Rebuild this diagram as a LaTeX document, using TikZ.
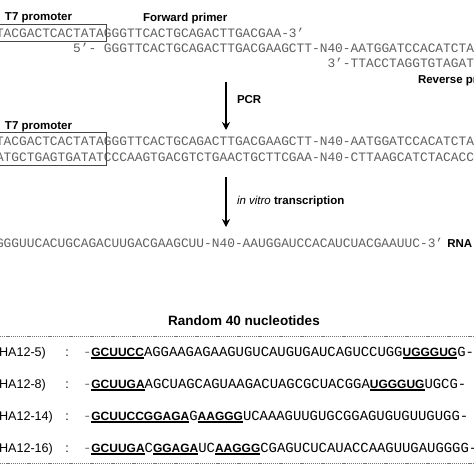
\documentclass[tikz,border=0pt]{standalone}
\usepackage{fontspec}
\setmainfont{Liberation Sans}
\newfontfamily\seqmonofont{Liberation Mono}
\usetikzlibrary{arrows.meta,fit}
\definecolor{seqgray}{RGB}{95,95,95}
\definecolor{seqlight}{RGB}{115,115,115}
\definecolor{boxgray}{RGB}{70,70,70}
\newcommand\seqtopfont{\seqmonofont\fontsize{12.85}{14}\selectfont}
\newcommand\seqbotfont{\seqmonofont\fontsize{13.9}{15}\selectfont}
\newcommand\motif[1]{\setbox0\hbox{\normalfont\fontsize{12}{14}\selectfont\bfseries\color{black}#1}\rlap{\color{black}\rule[-2.4pt]{\wd0}{1.2pt}}\box0}
\begin{document}
\begin{tikzpicture}[x=1pt,y=-1pt,
  lbl/.style={font=\fontsize{11.5}{13}\selectfont\bfseries, inner sep=0pt, outer sep=0pt, anchor=base west},
  seqtop/.style={font=\seqtopfont, text=seqgray, inner sep=0pt, outer sep=0pt, anchor=base west, text height=10.5pt, text depth=1.5pt},
  seqbot/.style={font=\seqbotfont, text=seqlight, inner sep=0pt, outer sep=0pt, anchor=base west},
  rowlbl/.style={font=\fontsize{12.6}{14}\selectfont, text=black, inner sep=0pt, outer sep=0pt, anchor=base west},
  colon/.style={font=\fontsize{12.6}{14}\selectfont, text=black, inner sep=0pt, outer sep=0pt, anchor=base},
  promobox/.style={draw=boxgray, line width=0.8pt},
  steparrow/.style={line width=1.8pt, -{Stealth[length=8pt,width=8pt]}},
  dashrule/.style={draw=gray!90!black, line width=0.9pt, dash pattern=on 1.2pt off 0.9pt}
]
\useasboundingbox (0,0) rectangle (474,474);
\clip (0,0) rectangle (474,474);

% ---- block 1: primers ----
\node[lbl] (t7a) at (5,20.1) {T7 promoter};
\node[lbl] (fwd) at (143,21.5) {Forward primer};
\node[seqtop, promobox, inner xsep=2pt, inner ysep=2.5pt] (p1) at (-6,37.7) {TACGACTCACTATA};
\node[seqtop] (l1) at ([xshift=-2pt]p1.base east) {GGGTTCACTGCAGACTTGACGAA-3’};
\node[seqtop] (l2) at (73.1,52.7) {5’- GGGTTCACTGCAGACTTGACGAAGCTT-N40-AATGGATCCACATCTA};
\node[seqtop] (l3) at (327.5,67.7) {3’-TTACCTAGGTGTAGAT};
\node[lbl] (rev) at (418,83.5) {Reverse primer};

% ---- PCR arrow ----
\coordinate (a1s) at (226,82);
\coordinate (a1e) at (226,130);
\draw[steparrow] (a1s) -- (a1e);
\node[lbl] (pcr) at (237,103.2) {PCR};

% ---- block 2: double strand ----
\node[lbl] (t7b) at (5,129.6) {T7 promoter};
\node[seqtop] (p2a) at (-4,145.2) {TACGACTCACTATA};
\node[seqtop] (l4) at (p2a.base east) {GGGTTCACTGCAGACTTGACGAAGCTT-N40-AATGGATCCACATCTA};
\node[seqtop] (p2b) at (-4,161.2) {ATGCTGAGTGATAT};
\node[seqtop] (l5) at (p2b.base east) {CCCAAGTGACGTCTGAACTGCTTCGAA-N40-CTTAAGCATCTACACC};
\node[promobox, fit=(p2a)(p2b), inner xsep=2pt, inner ysep=2.2pt] (box2) {};

% ---- transcription arrow ----
\coordinate (a2s) at (226,177);
\coordinate (a2e) at (226,227);
\draw[steparrow] (a2s) -- (a2e);
\node[lbl, font=\fontsize{11.5}{13}\selectfont] (ivt) at (237,204) {\textit{in vitro} \textbf{transcription}};

% ---- RNA ----
\node[seqtop] (rna) at (-4,247.7) {GGGUUCACUGCAGACUUGACGAAGCUU-N40-AAUGGAUCCACAUCUACGAAUUC-3’};
\node[lbl] (rnalbl) at ([xshift=4pt]rna.base east) {RNA};

% ---- block 3: aptamer sequences ----
\node[lbl, font=\fontsize{13.5}{15}\selectfont\bfseries, anchor=base] (rand) at (244,325.8) {Random 40 nucleotides};
\coordinate (d1l) at (0,336);
\coordinate (d1r) at (474,336);
\draw[dashrule] (d1l) -- (d1r);

\node[rowlbl] (h5) at (-1,356.2) {HA12-5)};
\node[colon] (c5) at (67,356.2) {:};
\node[seqbot] (s5) at (83,356.2) {-\motif{GCUUCC}AGGAAGAGAAGUGUCAUGUGAUCAGUCCUGG\motif{UGGGUG}G-};

\node[rowlbl] (h8) at (-1,388.2) {HA12-8)};
\node[colon] (c8) at (67,388.2) {:};
\node[seqbot] (s8) at (83,388.2) {-\motif{GCUUGA}AGCUAGCAGUAAGACUAGCGCUACGGA\motif{UGGGUG}UGCG-};

\node[rowlbl] (h14) at (-1,420.2) {HA12-14)};
\node[colon] (c14) at (67,420.2) {:};
\node[seqbot] (s14) at (83,420.2) {-\motif{GCUUCCGGAGA}G\motif{AAGGG}UCAAAGUUGUGCGGAGUGUGUUGUGG-};

\node[rowlbl] (h16) at (-1,452.2) {HA12-16)};
\node[colon] (c16) at (67,452.2) {:};
\node[seqbot] (s16) at (83,452.2) {-\motif{GCUUGA}C\motif{GGAGA}UC\motif{AAGGG}CGAGUCUCAUACCAAGUUGAUGGGG-};

\coordinate (d2l) at (0,463);
\coordinate (d2r) at (474,463);
\draw[dashrule] (d2l) -- (d2r);
\end{tikzpicture}
\end{document}
